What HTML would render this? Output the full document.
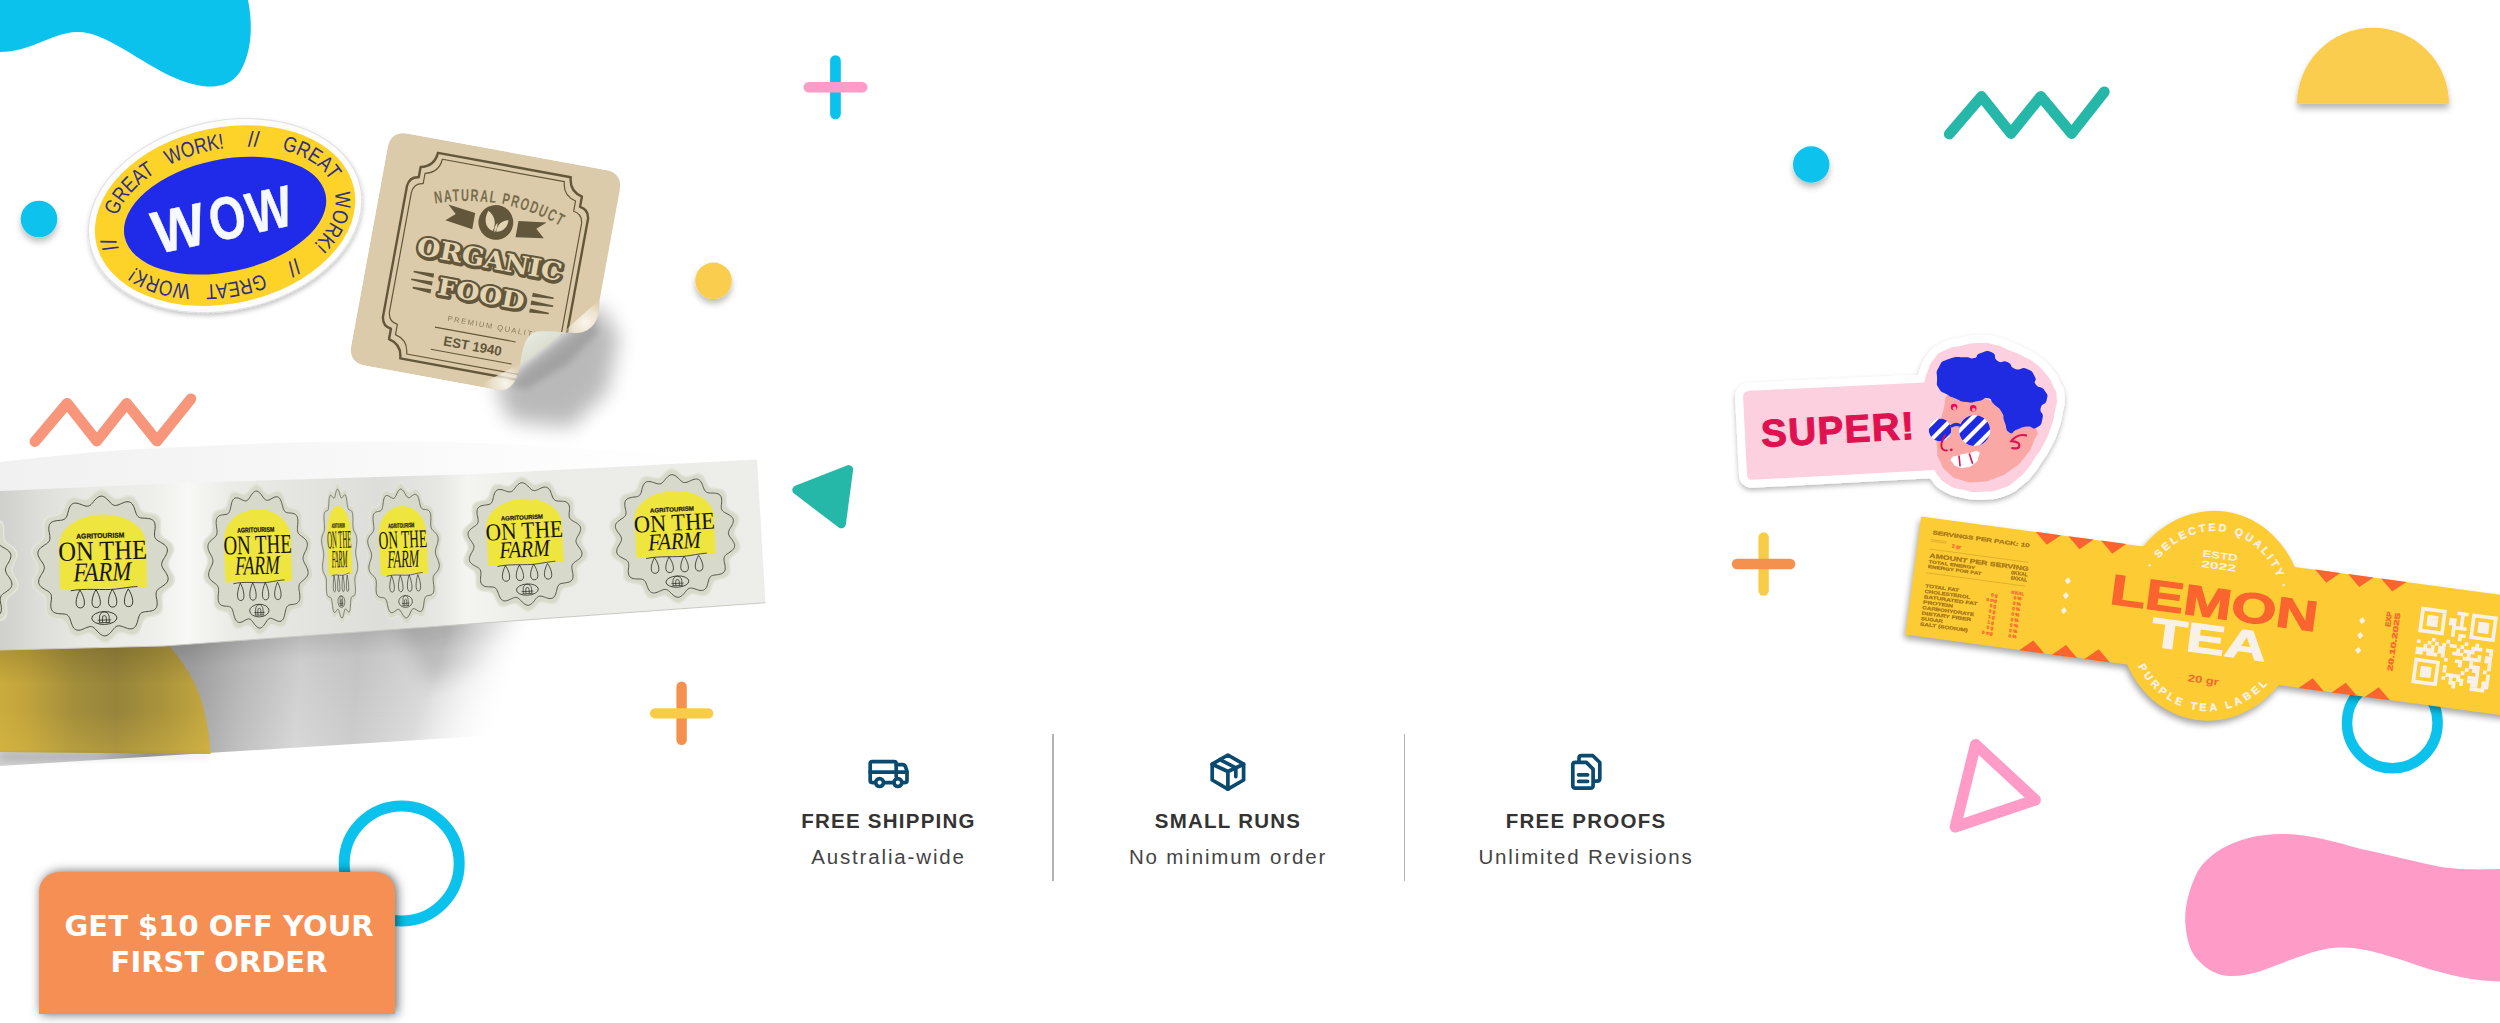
<!DOCTYPE html>
<html lang="en"><head><meta charset="utf-8"><title>Custom Stickers &amp; Labels</title>
<style>
html,body{margin:0;padding:0;background:#fff;}
body{width:2500px;height:1023px;overflow:hidden;position:relative;font-family:"Liberation Sans",sans-serif;}
#art{position:absolute;left:0;top:0;width:2500px;height:1023px;display:block;}
.feat{position:absolute;top:806px;width:400px;text-align:center;color:#333;}
.feat h3{margin:0;font-family:"Liberation Sans",sans-serif;font-weight:700;font-size:20.5px;line-height:30px;letter-spacing:1.25px;color:#333;}
.feat p{margin:6px 0 0;font-family:"Liberation Sans",sans-serif;font-weight:400;font-size:20.5px;line-height:30px;letter-spacing:1.85px;color:#444;}
.div{position:absolute;top:734px;height:147px;width:1.5px;background:#b4b4b4;}
#cta{position:absolute;left:39.2px;top:872px;width:355.7px;height:141.8px;background:#f68f54;border-radius:20px 20px 0 0;box-shadow:2px 0 11px rgba(0,0,0,.62);color:#fff;font-family:"DejaVu Sans",sans-serif;font-weight:700;font-size:29px;line-height:35.3px;text-align:center;box-sizing:border-box;padding:37.3px 0 0 4px;}
</style></head><body>
<svg id="art" viewBox="0 0 2500 1023" width="2500" height="1023">
<defs>
<filter id="ds" x="-30%" y="-30%" width="160%" height="180%"><feDropShadow dx="0" dy="4.5" stdDeviation="3" flood-color="#000" flood-opacity=".26"/></filter>
<filter id="ds2" x="-20%" y="-20%" width="140%" height="160%"><feDropShadow dx="0" dy="5" stdDeviation="3.2" flood-color="#000" flood-opacity=".28"/></filter>
<filter id="stk" x="-10%" y="-10%" width="120%" height="125%"><feDropShadow dx="0" dy="2.5" stdDeviation="2.5" flood-color="#000" flood-opacity=".28"/></filter>
<filter id="blur6" x="-50%" y="-50%" width="200%" height="200%"><feGaussianBlur stdDeviation="6"/></filter>
<filter id="blur10" x="-60%" y="-60%" width="220%" height="220%"><feGaussianBlur stdDeviation="10"/></filter>
<filter id="blur3" x="-30%" y="-30%" width="160%" height="160%"><feGaussianBlur stdDeviation="3"/></filter>
<g id="farm">
<path d="M0.0,-76.0 L1.3,-75.9 L2.6,-75.5 L3.9,-74.9 L5.2,-74.1 L6.4,-73.2 L7.6,-72.2 L8.7,-71.1 L9.9,-70.1 L10.9,-69.1 L12.0,-68.2 L13.1,-67.5 L14.2,-67.0 L15.4,-66.6 L16.6,-66.5 L17.8,-66.6 L19.1,-66.8 L20.5,-67.1 L21.9,-67.5 L23.4,-68.0 L24.9,-68.5 L26.4,-68.8 L27.9,-69.1 L29.4,-69.2 L30.8,-69.1 L32.1,-68.8 L33.3,-68.3 L34.4,-67.6 L35.4,-66.6 L36.3,-65.5 L37.0,-64.2 L37.7,-62.8 L38.3,-61.3 L38.9,-59.9 L39.4,-58.5 L40.0,-57.1 L40.6,-55.9 L41.3,-54.8 L42.1,-53.9 L43.1,-53.2 L44.1,-52.6 L45.3,-52.1 L46.6,-51.8 L48.0,-51.5 L49.5,-51.3 L51.1,-51.1 L52.6,-50.8 L54.1,-50.5 L55.5,-50.0 L56.9,-49.4 L58.0,-48.7 L59.0,-47.8 L59.9,-46.8 L60.5,-45.6 L60.9,-44.2 L61.1,-42.8 L61.2,-41.3 L61.2,-39.8 L61.1,-38.2 L61.0,-36.6 L60.9,-35.2 L60.8,-33.7 L60.9,-32.4 L61.1,-31.1 L61.5,-30.0 L62.0,-28.9 L62.8,-28.0 L63.7,-27.0 L64.8,-26.2 L66.0,-25.3 L67.2,-24.5 L68.5,-23.6 L69.8,-22.7 L71.0,-21.7 L72.0,-20.7 L72.9,-19.5 L73.6,-18.4 L74.0,-17.1 L74.3,-15.8 L74.2,-14.4 L74.0,-13.0 L73.5,-11.6 L72.9,-10.2 L72.2,-8.9 L71.4,-7.5 L70.6,-6.2 L69.9,-4.9 L69.3,-3.6 L68.8,-2.4 L68.5,-1.2 L68.4,-0.0 L68.5,1.2 L68.8,2.4 L69.3,3.6 L69.9,4.9 L70.6,6.2 L71.4,7.5 L72.2,8.9 L72.9,10.2 L73.5,11.6 L74.0,13.0 L74.2,14.4 L74.3,15.8 L74.0,17.1 L73.6,18.4 L72.9,19.5 L72.0,20.7 L71.0,21.7 L69.8,22.7 L68.5,23.6 L67.2,24.5 L66.0,25.3 L64.8,26.2 L63.7,27.0 L62.8,28.0 L62.0,28.9 L61.5,30.0 L61.1,31.1 L60.9,32.4 L60.8,33.7 L60.9,35.1 L61.0,36.6 L61.1,38.2 L61.2,39.8 L61.2,41.3 L61.1,42.8 L60.9,44.2 L60.5,45.6 L59.9,46.8 L59.0,47.8 L58.0,48.7 L56.9,49.4 L55.5,50.0 L54.1,50.5 L52.6,50.8 L51.1,51.1 L49.5,51.3 L48.0,51.5 L46.6,51.8 L45.3,52.1 L44.1,52.6 L43.1,53.2 L42.1,53.9 L41.3,54.8 L40.6,55.9 L40.0,57.1 L39.4,58.5 L38.9,59.9 L38.3,61.3 L37.7,62.8 L37.0,64.2 L36.3,65.5 L35.4,66.6 L34.4,67.6 L33.3,68.3 L32.1,68.8 L30.8,69.1 L29.4,69.2 L27.9,69.1 L26.4,68.8 L24.9,68.5 L23.4,68.0 L21.9,67.5 L20.5,67.1 L19.1,66.8 L17.8,66.6 L16.6,66.5 L15.4,66.6 L14.2,67.0 L13.1,67.5 L12.0,68.2 L10.9,69.1 L9.9,70.1 L8.7,71.1 L7.6,72.2 L6.4,73.2 L5.2,74.1 L3.9,74.9 L2.6,75.5 L1.3,75.9 L0.0,76.0 L-1.3,75.9 L-2.6,75.5 L-3.9,74.9 L-5.2,74.1 L-6.4,73.2 L-7.6,72.2 L-8.7,71.1 L-9.9,70.1 L-10.9,69.1 L-12.0,68.2 L-13.1,67.5 L-14.2,67.0 L-15.4,66.6 L-16.6,66.5 L-17.8,66.6 L-19.1,66.8 L-20.5,67.1 L-21.9,67.5 L-23.4,68.0 L-24.9,68.5 L-26.4,68.8 L-27.9,69.1 L-29.4,69.2 L-30.8,69.1 L-32.1,68.8 L-33.3,68.3 L-34.4,67.6 L-35.4,66.6 L-36.3,65.5 L-37.1,64.2 L-37.7,62.8 L-38.3,61.3 L-38.9,59.9 L-39.4,58.5 L-40.0,57.1 L-40.6,55.9 L-41.3,54.8 L-42.1,53.9 L-43.1,53.2 L-44.1,52.6 L-45.3,52.1 L-46.6,51.8 L-48.0,51.5 L-49.5,51.3 L-51.1,51.1 L-52.6,50.8 L-54.1,50.5 L-55.5,50.0 L-56.9,49.4 L-58.0,48.7 L-59.0,47.8 L-59.9,46.8 L-60.5,45.6 L-60.9,44.2 L-61.1,42.8 L-61.2,41.3 L-61.2,39.8 L-61.1,38.2 L-61.0,36.6 L-60.9,35.2 L-60.8,33.7 L-60.9,32.4 L-61.1,31.1 L-61.5,30.0 L-62.0,28.9 L-62.8,28.0 L-63.7,27.0 L-64.8,26.2 L-66.0,25.3 L-67.2,24.5 L-68.5,23.6 L-69.8,22.7 L-71.0,21.7 L-72.0,20.7 L-72.9,19.5 L-73.6,18.4 L-74.0,17.1 L-74.3,15.8 L-74.2,14.4 L-74.0,13.0 L-73.5,11.6 L-72.9,10.2 L-72.2,8.9 L-71.4,7.5 L-70.6,6.2 L-69.9,4.9 L-69.3,3.6 L-68.8,2.4 L-68.5,1.2 L-68.4,0.0 L-68.5,-1.2 L-68.8,-2.4 L-69.3,-3.6 L-69.9,-4.9 L-70.6,-6.2 L-71.4,-7.5 L-72.2,-8.9 L-72.9,-10.2 L-73.5,-11.6 L-74.0,-13.0 L-74.2,-14.4 L-74.3,-15.8 L-74.0,-17.1 L-73.6,-18.4 L-72.9,-19.5 L-72.0,-20.7 L-71.0,-21.7 L-69.8,-22.7 L-68.5,-23.6 L-67.2,-24.5 L-66.0,-25.3 L-64.8,-26.2 L-63.7,-27.0 L-62.8,-28.0 L-62.0,-28.9 L-61.5,-30.0 L-61.1,-31.1 L-60.9,-32.4 L-60.8,-33.7 L-60.9,-35.2 L-61.0,-36.6 L-61.1,-38.2 L-61.2,-39.8 L-61.2,-41.3 L-61.1,-42.8 L-60.9,-44.2 L-60.5,-45.6 L-59.9,-46.8 L-59.0,-47.8 L-58.0,-48.7 L-56.9,-49.4 L-55.5,-50.0 L-54.1,-50.5 L-52.6,-50.8 L-51.1,-51.1 L-49.5,-51.3 L-48.0,-51.5 L-46.6,-51.8 L-45.3,-52.1 L-44.1,-52.6 L-43.1,-53.2 L-42.1,-53.9 L-41.3,-54.8 L-40.6,-55.9 L-40.0,-57.1 L-39.4,-58.5 L-38.9,-59.9 L-38.3,-61.3 L-37.7,-62.8 L-37.1,-64.2 L-36.3,-65.5 L-35.4,-66.6 L-34.4,-67.6 L-33.3,-68.3 L-32.1,-68.8 L-30.8,-69.1 L-29.4,-69.2 L-27.9,-69.1 L-26.4,-68.8 L-24.9,-68.5 L-23.4,-68.0 L-21.9,-67.5 L-20.5,-67.1 L-19.1,-66.8 L-17.8,-66.6 L-16.6,-66.5 L-15.4,-66.6 L-14.2,-67.0 L-13.1,-67.5 L-12.0,-68.2 L-10.9,-69.1 L-9.9,-70.1 L-8.7,-71.1 L-7.6,-72.2 L-6.4,-73.2 L-5.2,-74.1 L-3.9,-74.9 L-2.6,-75.5 L-1.3,-75.9Z" fill="#e3e5da"/>
<path d="M0.0,-73.9 L1.3,-73.8 L2.6,-73.5 L3.8,-72.9 L5.0,-72.2 L6.2,-71.3 L7.4,-70.3 L8.5,-69.3 L9.6,-68.3 L10.7,-67.3 L11.7,-66.5 L12.8,-65.8 L13.9,-65.3 L15.0,-64.9 L16.2,-64.8 L17.4,-64.9 L18.7,-65.1 L20.0,-65.4 L21.4,-65.8 L22.8,-66.2 L24.3,-66.7 L25.7,-67.0 L27.2,-67.3 L28.6,-67.4 L29.9,-67.3 L31.2,-67.0 L32.4,-66.5 L33.5,-65.7 L34.5,-64.8 L35.3,-63.7 L36.1,-62.5 L36.7,-61.1 L37.3,-59.7 L37.9,-58.3 L38.4,-57.0 L39.0,-55.7 L39.6,-54.5 L40.3,-53.4 L41.1,-52.6 L42.0,-51.8 L43.0,-51.2 L44.1,-50.8 L45.4,-50.4 L46.8,-50.2 L48.2,-49.9 L49.7,-49.7 L51.2,-49.4 L52.7,-49.1 L54.1,-48.7 L55.3,-48.1 L56.5,-47.4 L57.5,-46.5 L58.2,-45.5 L58.8,-44.3 L59.3,-43.1 L59.5,-41.7 L59.6,-40.2 L59.6,-38.7 L59.5,-37.2 L59.4,-35.7 L59.3,-34.2 L59.3,-32.9 L59.3,-31.6 L59.5,-30.3 L59.9,-29.2 L60.5,-28.2 L61.2,-27.2 L62.1,-26.3 L63.1,-25.5 L64.2,-24.7 L65.5,-23.8 L66.7,-23.0 L67.9,-22.1 L69.1,-21.1 L70.1,-20.1 L71.0,-19.0 L71.6,-17.9 L72.1,-16.6 L72.3,-15.4 L72.2,-14.0 L72.0,-12.7 L71.6,-11.3 L71.0,-10.0 L70.3,-8.6 L69.5,-7.3 L68.8,-6.0 L68.1,-4.8 L67.5,-3.5 L67.0,-2.3 L66.8,-1.2 L66.7,-0.0 L66.8,1.2 L67.0,2.3 L67.5,3.5 L68.1,4.8 L68.8,6.0 L69.5,7.3 L70.3,8.6 L71.0,10.0 L71.6,11.3 L72.0,12.7 L72.2,14.0 L72.3,15.4 L72.1,16.6 L71.6,17.9 L71.0,19.0 L70.1,20.1 L69.1,21.1 L67.9,22.1 L66.7,23.0 L65.5,23.8 L64.2,24.7 L63.1,25.5 L62.1,26.3 L61.2,27.2 L60.5,28.2 L59.9,29.2 L59.5,30.3 L59.3,31.6 L59.3,32.9 L59.3,34.2 L59.4,35.7 L59.5,37.2 L59.6,38.7 L59.6,40.2 L59.5,41.7 L59.3,43.1 L58.8,44.3 L58.2,45.5 L57.5,46.5 L56.5,47.4 L55.3,48.1 L54.1,48.7 L52.7,49.1 L51.2,49.4 L49.7,49.7 L48.2,49.9 L46.8,50.2 L45.4,50.4 L44.1,50.8 L43.0,51.2 L42.0,51.8 L41.1,52.6 L40.3,53.4 L39.6,54.5 L39.0,55.7 L38.4,57.0 L37.9,58.3 L37.3,59.7 L36.7,61.1 L36.1,62.5 L35.3,63.7 L34.5,64.8 L33.5,65.7 L32.4,66.5 L31.2,67.0 L29.9,67.3 L28.6,67.4 L27.2,67.3 L25.7,67.0 L24.3,66.7 L22.8,66.2 L21.4,65.8 L20.0,65.4 L18.7,65.1 L17.4,64.9 L16.2,64.8 L15.0,64.9 L13.9,65.3 L12.8,65.8 L11.7,66.5 L10.7,67.3 L9.6,68.3 L8.5,69.3 L7.4,70.3 L6.2,71.3 L5.0,72.2 L3.8,72.9 L2.6,73.5 L1.3,73.8 L0.0,73.9 L-1.3,73.8 L-2.6,73.5 L-3.8,72.9 L-5.0,72.2 L-6.2,71.3 L-7.4,70.3 L-8.5,69.3 L-9.6,68.3 L-10.7,67.3 L-11.7,66.5 L-12.8,65.8 L-13.9,65.3 L-15.0,64.9 L-16.2,64.8 L-17.4,64.9 L-18.7,65.1 L-20.0,65.4 L-21.4,65.8 L-22.8,66.2 L-24.3,66.7 L-25.7,67.0 L-27.2,67.3 L-28.6,67.4 L-29.9,67.3 L-31.2,67.0 L-32.4,66.5 L-33.5,65.7 L-34.5,64.8 L-35.3,63.7 L-36.1,62.5 L-36.7,61.1 L-37.3,59.7 L-37.9,58.3 L-38.4,57.0 L-39.0,55.7 L-39.6,54.5 L-40.3,53.4 L-41.1,52.6 L-42.0,51.8 L-43.0,51.2 L-44.1,50.8 L-45.4,50.4 L-46.8,50.2 L-48.2,49.9 L-49.7,49.7 L-51.2,49.4 L-52.7,49.1 L-54.1,48.7 L-55.3,48.1 L-56.5,47.4 L-57.5,46.5 L-58.2,45.5 L-58.8,44.3 L-59.3,43.1 L-59.5,41.7 L-59.6,40.2 L-59.6,38.7 L-59.5,37.2 L-59.4,35.7 L-59.3,34.2 L-59.3,32.9 L-59.3,31.6 L-59.5,30.3 L-59.9,29.2 L-60.5,28.2 L-61.2,27.2 L-62.1,26.3 L-63.1,25.5 L-64.2,24.7 L-65.5,23.8 L-66.7,23.0 L-67.9,22.1 L-69.1,21.1 L-70.1,20.1 L-71.0,19.0 L-71.6,17.9 L-72.1,16.6 L-72.3,15.4 L-72.2,14.0 L-72.0,12.7 L-71.6,11.3 L-71.0,10.0 L-70.3,8.6 L-69.5,7.3 L-68.8,6.0 L-68.1,4.8 L-67.5,3.5 L-67.0,2.3 L-66.8,1.2 L-66.7,0.0 L-66.8,-1.2 L-67.0,-2.3 L-67.5,-3.5 L-68.1,-4.8 L-68.8,-6.0 L-69.5,-7.3 L-70.3,-8.6 L-71.0,-10.0 L-71.6,-11.3 L-72.0,-12.7 L-72.2,-14.0 L-72.3,-15.4 L-72.1,-16.6 L-71.6,-17.9 L-71.0,-19.0 L-70.1,-20.1 L-69.1,-21.1 L-67.9,-22.1 L-66.7,-23.0 L-65.5,-23.8 L-64.2,-24.7 L-63.1,-25.5 L-62.1,-26.3 L-61.2,-27.2 L-60.5,-28.2 L-59.9,-29.2 L-59.5,-30.3 L-59.3,-31.6 L-59.3,-32.9 L-59.3,-34.2 L-59.4,-35.7 L-59.5,-37.2 L-59.6,-38.7 L-59.6,-40.2 L-59.5,-41.7 L-59.3,-43.1 L-58.8,-44.3 L-58.2,-45.5 L-57.5,-46.5 L-56.5,-47.4 L-55.3,-48.1 L-54.1,-48.7 L-52.7,-49.1 L-51.2,-49.4 L-49.7,-49.7 L-48.2,-49.9 L-46.8,-50.2 L-45.4,-50.4 L-44.1,-50.8 L-43.0,-51.2 L-42.0,-51.8 L-41.1,-52.6 L-40.3,-53.4 L-39.6,-54.5 L-39.0,-55.7 L-38.4,-57.0 L-37.9,-58.3 L-37.3,-59.7 L-36.7,-61.1 L-36.1,-62.5 L-35.3,-63.7 L-34.5,-64.8 L-33.5,-65.7 L-32.4,-66.5 L-31.2,-67.0 L-29.9,-67.3 L-28.6,-67.4 L-27.2,-67.3 L-25.7,-67.0 L-24.3,-66.7 L-22.8,-66.2 L-21.4,-65.8 L-20.0,-65.4 L-18.7,-65.1 L-17.4,-64.9 L-16.2,-64.8 L-15.0,-64.9 L-13.9,-65.3 L-12.8,-65.8 L-11.7,-66.5 L-10.7,-67.3 L-9.6,-68.3 L-8.5,-69.3 L-7.4,-70.3 L-6.2,-71.3 L-5.0,-72.2 L-3.8,-72.9 L-2.6,-73.5 L-1.3,-73.8Z" fill="#d7dacb"/>
<path d="M0.0,-68.6 L1.2,-68.4 L2.4,-68.0 L3.5,-67.4 L4.7,-66.6 L5.7,-65.7 L6.8,-64.7 L7.8,-63.6 L8.8,-62.5 L9.7,-61.5 L10.7,-60.6 L11.6,-59.9 L12.6,-59.4 L13.6,-59.1 L14.7,-59.0 L15.8,-59.1 L17.0,-59.4 L18.3,-59.8 L19.6,-60.3 L20.9,-60.8 L22.3,-61.3 L23.7,-61.8 L25.1,-62.2 L26.5,-62.3 L27.7,-62.3 L28.9,-62.1 L30.0,-61.6 L31.0,-60.9 L31.9,-60.0 L32.6,-58.9 L33.3,-57.7 L33.8,-56.3 L34.3,-54.9 L34.7,-53.5 L35.2,-52.1 L35.6,-50.8 L36.1,-49.7 L36.7,-48.7 L37.4,-47.8 L38.2,-47.1 L39.1,-46.6 L40.2,-46.3 L41.5,-46.0 L42.8,-45.9 L44.2,-45.8 L45.7,-45.7 L47.2,-45.5 L48.6,-45.3 L50.0,-45.0 L51.2,-44.5 L52.3,-43.9 L53.3,-43.1 L54.0,-42.2 L54.5,-41.1 L54.8,-39.9 L55.0,-38.5 L55.0,-37.1 L54.9,-35.6 L54.7,-34.2 L54.4,-32.7 L54.2,-31.3 L54.1,-30.0 L54.1,-28.8 L54.2,-27.6 L54.5,-26.6 L55.0,-25.7 L55.7,-24.8 L56.6,-24.0 L57.6,-23.3 L58.8,-22.6 L60.1,-21.9 L61.3,-21.1 L62.6,-20.3 L63.8,-19.5 L64.8,-18.6 L65.7,-17.6 L66.4,-16.5 L66.8,-15.4 L67.0,-14.2 L66.9,-13.0 L66.6,-11.7 L66.1,-10.5 L65.4,-9.2 L64.7,-7.9 L63.8,-6.7 L63.0,-5.5 L62.2,-4.4 L61.6,-3.2 L61.1,-2.1 L60.8,-1.1 L60.6,-0.0 L60.8,1.1 L61.1,2.1 L61.6,3.2 L62.2,4.4 L63.0,5.5 L63.8,6.7 L64.7,7.9 L65.4,9.2 L66.1,10.5 L66.6,11.7 L66.9,13.0 L67.0,14.2 L66.8,15.4 L66.4,16.5 L65.7,17.6 L64.8,18.6 L63.8,19.5 L62.6,20.3 L61.3,21.1 L60.1,21.9 L58.8,22.6 L57.6,23.3 L56.6,24.0 L55.7,24.8 L55.0,25.7 L54.5,26.6 L54.2,27.6 L54.1,28.8 L54.1,30.0 L54.2,31.3 L54.4,32.7 L54.7,34.2 L54.9,35.6 L55.0,37.1 L55.0,38.5 L54.8,39.9 L54.5,41.1 L54.0,42.2 L53.3,43.1 L52.3,43.9 L51.2,44.5 L50.0,45.0 L48.6,45.3 L47.2,45.5 L45.7,45.7 L44.2,45.8 L42.8,45.9 L41.5,46.0 L40.2,46.3 L39.1,46.6 L38.2,47.1 L37.4,47.8 L36.7,48.7 L36.1,49.7 L35.6,50.8 L35.2,52.1 L34.7,53.5 L34.3,54.9 L33.8,56.3 L33.3,57.7 L32.6,58.9 L31.9,60.0 L31.0,60.9 L30.0,61.6 L28.9,62.1 L27.7,62.3 L26.5,62.3 L25.1,62.2 L23.7,61.8 L22.3,61.3 L20.9,60.8 L19.6,60.3 L18.3,59.8 L17.0,59.4 L15.8,59.1 L14.7,59.0 L13.6,59.1 L12.6,59.4 L11.6,59.9 L10.7,60.6 L9.7,61.5 L8.8,62.5 L7.8,63.6 L6.8,64.7 L5.7,65.7 L4.7,66.6 L3.5,67.4 L2.4,68.0 L1.2,68.4 L0.0,68.6 L-1.2,68.4 L-2.4,68.0 L-3.5,67.4 L-4.7,66.6 L-5.7,65.7 L-6.8,64.7 L-7.8,63.6 L-8.8,62.5 L-9.7,61.5 L-10.7,60.6 L-11.6,59.9 L-12.6,59.4 L-13.6,59.1 L-14.7,59.0 L-15.8,59.1 L-17.0,59.4 L-18.3,59.8 L-19.6,60.3 L-20.9,60.8 L-22.3,61.3 L-23.7,61.8 L-25.1,62.2 L-26.5,62.3 L-27.7,62.3 L-28.9,62.1 L-30.0,61.6 L-31.0,60.9 L-31.9,60.0 L-32.6,58.9 L-33.3,57.7 L-33.8,56.3 L-34.3,54.9 L-34.7,53.5 L-35.2,52.1 L-35.6,50.8 L-36.1,49.7 L-36.7,48.7 L-37.4,47.8 L-38.2,47.1 L-39.1,46.6 L-40.2,46.3 L-41.5,46.0 L-42.8,45.9 L-44.2,45.8 L-45.7,45.7 L-47.2,45.5 L-48.6,45.3 L-50.0,45.0 L-51.2,44.5 L-52.3,43.9 L-53.3,43.1 L-54.0,42.2 L-54.5,41.1 L-54.8,39.9 L-55.0,38.5 L-55.0,37.1 L-54.9,35.6 L-54.7,34.2 L-54.4,32.7 L-54.2,31.3 L-54.1,30.0 L-54.1,28.8 L-54.2,27.6 L-54.5,26.6 L-55.0,25.7 L-55.7,24.8 L-56.6,24.0 L-57.6,23.3 L-58.8,22.6 L-60.1,21.9 L-61.3,21.1 L-62.6,20.3 L-63.8,19.5 L-64.8,18.6 L-65.7,17.6 L-66.4,16.5 L-66.8,15.4 L-67.0,14.2 L-66.9,13.0 L-66.6,11.7 L-66.1,10.5 L-65.4,9.2 L-64.7,7.9 L-63.8,6.7 L-63.0,5.5 L-62.2,4.4 L-61.6,3.2 L-61.1,2.1 L-60.8,1.1 L-60.6,0.0 L-60.8,-1.1 L-61.1,-2.1 L-61.6,-3.2 L-62.2,-4.4 L-63.0,-5.5 L-63.8,-6.7 L-64.7,-7.9 L-65.4,-9.2 L-66.1,-10.5 L-66.6,-11.7 L-66.9,-13.0 L-67.0,-14.2 L-66.8,-15.4 L-66.4,-16.5 L-65.7,-17.6 L-64.8,-18.6 L-63.8,-19.5 L-62.6,-20.3 L-61.3,-21.1 L-60.1,-21.9 L-58.8,-22.6 L-57.6,-23.3 L-56.6,-24.0 L-55.7,-24.8 L-55.0,-25.7 L-54.5,-26.6 L-54.2,-27.6 L-54.1,-28.8 L-54.1,-30.0 L-54.2,-31.3 L-54.4,-32.7 L-54.7,-34.2 L-54.9,-35.6 L-55.0,-37.1 L-55.0,-38.5 L-54.8,-39.9 L-54.5,-41.1 L-54.0,-42.2 L-53.3,-43.1 L-52.3,-43.9 L-51.2,-44.5 L-50.0,-45.0 L-48.6,-45.3 L-47.2,-45.5 L-45.7,-45.7 L-44.2,-45.8 L-42.8,-45.9 L-41.5,-46.0 L-40.2,-46.3 L-39.1,-46.6 L-38.2,-47.1 L-37.4,-47.8 L-36.7,-48.7 L-36.1,-49.7 L-35.6,-50.8 L-35.2,-52.1 L-34.7,-53.5 L-34.3,-54.9 L-33.8,-56.3 L-33.3,-57.7 L-32.6,-58.9 L-31.9,-60.0 L-31.0,-60.9 L-30.0,-61.6 L-28.9,-62.1 L-27.7,-62.3 L-26.5,-62.3 L-25.1,-62.2 L-23.7,-61.8 L-22.3,-61.3 L-20.9,-60.8 L-19.6,-60.3 L-18.3,-59.8 L-17.0,-59.4 L-15.8,-59.1 L-14.7,-59.0 L-13.6,-59.1 L-12.6,-59.4 L-11.6,-59.9 L-10.7,-60.6 L-9.7,-61.5 L-8.8,-62.5 L-7.8,-63.6 L-6.8,-64.7 L-5.7,-65.7 L-4.7,-66.6 L-3.5,-67.4 L-2.4,-68.0 L-1.2,-68.4Z" fill="none" stroke="#3a3a32" stroke-width="0.9"/>
<path d="M-45,22 V-21.5 A45,29 0 0 1 45,-21.5 V22 Z" fill="#efe53f"/>
<text x="-2" y="-27.5" text-anchor="middle" font-family="'Liberation Sans',sans-serif" font-weight="700" font-size="6.8" textLength="50" lengthAdjust="spacingAndGlyphs" fill="#1c1a12" stroke="#1c1a12" stroke-width=".25">AGRITOURISM</text>
<text x="0" y="-6" text-anchor="middle" font-family="'Liberation Serif',serif" font-size="27" textLength="92" lengthAdjust="spacingAndGlyphs" fill="#17150e">ON THE</text>
<text x="-1" y="14.5" text-anchor="middle" font-family="'Liberation Serif',serif" font-style="italic" font-size="26.5" textLength="60" lengthAdjust="spacingAndGlyphs" fill="#17150e">FARM</text>
<path d="M-34,23.5 C-20,21 0,24 12,23 C22,22 30,21 35,21 M-24.5,23 C-29.54,30.875 -30.939999999999998,40.5 -24.5,40.5 C-18.060000000000002,40.5 -19.46,30.875 -24.5,23 Z M-8,23 C-13.04,30.875 -14.44,40.5 -8,40.5 C-1.5600000000000005,40.5 -2.96,30.875 -8,23 Z M9,23 C3.96,30.875 2.5600000000000005,40.5 9,40.5 C15.44,40.5 14.04,30.875 9,23 Z M25.5,23 C20.46,30.875 19.060000000000002,40.5 25.5,40.5 C31.939999999999998,40.5 30.54,30.875 25.5,23 Z" fill="none" stroke="#2a2a22" stroke-width="0.9"/>
<ellipse cx="0" cy="51" rx="13" ry="6.3" fill="none" stroke="#2a2a22" stroke-width="0.9"/>
<path d="M-5,55.5 V50 A5,5 0 0 1 5,50 V55.5 M-2,55.5 V51 A2,2.4 0 0 1 2,51 V55.5 M-7,53 H7 M-6,55.5 H6" fill="none" stroke="#2a2a22" stroke-width="0.8"/>
</g>
</defs>
<path d="M0,0 L248,0 C253,25 252,52 240,72 C232,84 220,87 207,86.5 C180,85 150,65 126,50.5 C105,38 90,31 75,32 C50,34 30,52 0,52 Z" fill="#0bc2ec"/>
<circle cx="39" cy="219" r="18.3" fill="#0bc2ec" filter="url(#ds)"/>
<circle cx="713.5" cy="280.8" r="18.3" fill="#fbcd4f" filter="url(#ds)"/>
<circle cx="1811.2" cy="164.5" r="18.2" fill="#0bc2ec" filter="url(#ds)"/>
<polyline points="35,441.5 67.2,403.3 96.8,441 126.7,403.3 157,441 190.9,398.8" fill="none" stroke="#f7967a" stroke-width="10.8" stroke-linecap="round" stroke-linejoin="round"/>
<polyline points="1949.3,134 1981.5,96.5 2010.9,133.5 2040.8,96.5 2071.6,133.5 2104.3,91.8" fill="none" stroke="#25b8a9" stroke-width="10.8" stroke-linecap="round" stroke-linejoin="round"/>
<path d="M2297,103.8 A76,76 0 0 1 2449,103.8 Z" fill="#fbcd4f" filter="url(#ds2)"/>
<rect x="830.1" y="55.2" width="10.7" height="64" rx="5.35" fill="#0bc2ec"/><rect x="803.5" y="81.9" width="64" height="10.7" rx="5.35" fill="#fe9bc7"/>
<rect x="676.4" y="681.6" width="10.4" height="63.5" rx="5.2" fill="#f5914f"/><rect x="649.9" y="708.2" width="63.5" height="10.4" rx="5.2" fill="#f9cc48"/>
<rect x="1758.4" y="532.2" width="10.4" height="63.5" rx="5.2" fill="#f9cc48"/><rect x="1731.8" y="558.8" width="63.5" height="10.4" rx="5.2" fill="#f5914f"/>
<path d="M848.6,469.6 L796.8,490 L841.4,523.8 Z" fill="#25b8a9" stroke="#25b8a9" stroke-width="9" stroke-linejoin="round"/>
<circle cx="401.7" cy="863.4" r="57.5" fill="none" stroke="#0bc2ec" stroke-width="11"/>
<circle cx="2392.3" cy="723" r="45.3" fill="none" stroke="#0bc2ec" stroke-width="10.5"/>
<path d="M1975.6,744.5 L2035.3,799.9 L1955.3,826.9 Z" fill="none" stroke="#fe9bc7" stroke-width="11.2" stroke-linejoin="round"/>
<path d="M2500,869 C2470,870 2450,869 2436,866 C2400,858 2380,853 2361,849 C2335,842 2310,834 2283,834 C2235,834 2205,855 2196,875 C2188,892 2184,910 2185.5,925 C2187,945 2193,955 2198,960 C2207,970 2218,976 2231,976 C2255,976 2270,967 2290,960 C2310,953 2325,947 2343,947.5 C2370,948 2395,958 2418,965.5 C2450,976 2475,981 2500,981.4 Z" fill="#fe9bc7"/>
<g transform="translate(225.1,215.6) rotate(-12)">
<ellipse cx="0" cy="0" rx="138.3" ry="94.8" fill="#fdfdfd" filter="url(#stk)"/>
<ellipse cx="0" cy="0" rx="138.3" ry="94.8" fill="none" stroke="#e2e2e6" stroke-width="1.2"/>
<ellipse cx="0" cy="0" rx="131.8" ry="88" fill="#fdd32a"/>
<ellipse cx="0" cy="0" rx="102.7" ry="56.2" fill="#1f2be8"/>
<path id="wowp" d="M-112,0 A112,66.5 0 1 1 112,0 A112,66.5 0 1 1 -112,0 A112,66.5 0 1 1 112,0" fill="none"/>
<text font-family="'Liberation Sans',sans-serif" font-size="21.5" fill="#2c2f83"><textPath href="#wowp" startOffset="23.0" textLength="59" lengthAdjust="spacingAndGlyphs">GREAT</textPath></text>
<text font-family="'Liberation Sans',sans-serif" font-size="21.5" fill="#2c2f83"><textPath href="#wowp" startOffset="97.0" textLength="59" lengthAdjust="spacingAndGlyphs">WORK!</textPath></text>
<text font-family="'Liberation Sans',sans-serif" font-size="21.5" fill="#2c2f83"><textPath href="#wowp" startOffset="179.0" textLength="11.5" lengthAdjust="spacingAndGlyphs">//</textPath></text>
<text font-family="'Liberation Sans',sans-serif" font-size="21.5" fill="#2c2f83"><textPath href="#wowp" startOffset="213.2" textLength="59" lengthAdjust="spacingAndGlyphs">GREAT</textPath></text>
<text font-family="'Liberation Sans',sans-serif" font-size="21.5" fill="#2c2f83"><textPath href="#wowp" startOffset="284.2" textLength="59" lengthAdjust="spacingAndGlyphs">WORK!</textPath></text>
<text font-family="'Liberation Sans',sans-serif" font-size="21.5" fill="#2c2f83"><textPath href="#wowp" startOffset="366.2" textLength="11.5" lengthAdjust="spacingAndGlyphs">//</textPath></text>
<text font-family="'Liberation Sans',sans-serif" font-size="21.5" fill="#2c2f83"><textPath href="#wowp" startOffset="401.5" textLength="59" lengthAdjust="spacingAndGlyphs">GREAT</textPath></text>
<text font-family="'Liberation Sans',sans-serif" font-size="21.5" fill="#2c2f83"><textPath href="#wowp" startOffset="475.5" textLength="59" lengthAdjust="spacingAndGlyphs">WORK!</textPath></text>
<text font-family="'Liberation Sans',sans-serif" font-size="21.5" fill="#2c2f83"><textPath href="#wowp" startOffset="559.5" textLength="11.5" lengthAdjust="spacingAndGlyphs">//</textPath></text>

<g font-family="'Liberation Sans',sans-serif" font-weight="700" font-size="60" fill="#f6f9ff" stroke="#f6f9ff" stroke-width="0.5" text-anchor="middle">
<text transform="translate(-48,23.5) scale(0.93,1)" x="0" y="0">W</text>
<text transform="translate(1.5,23.5) scale(0.78,1)" x="0" y="0">O</text>
<text transform="translate(44.5,23.5) scale(0.8,0.97)" x="0" y="0">W</text>
</g>
</g>
<g transform="translate(485.5,267.8) rotate(10.4)">
<path d="M30,114 L52,90 L90,49 L117,14 L144,44 L142,100 L112,142 L52,146 Z" fill="#000" opacity=".27" filter="url(#blur10)"/>
<path d="M44,112 L54,92 L90,51 L116,26 L122,44 L98,80 L62,112 Z" fill="#000" opacity=".13" filter="url(#blur3)"/>
<clipPath id="orgclip"><path d="M-100,-118 H100 Q118,-118 118,-100 V12 C120.5,25 119,32 116,37 C112,44 105,48 94,48.6 L89,49.5 L51.4,90.6 L50,104 C47,114 42,118 34,118 H-100 Q-118,118 -118,100 V-100 Q-118,-118 -100,-118 Z"/></clipPath>
<g clip-path="url(#orgclip)">
<rect x="-120" y="-120" width="244" height="240" fill="#dccbaa"/>
<path d="M-67.5,-104.5 H67.5 Q68.5,-90.5 82.0,-87.5 V-77.0 Q91,-76.0 92,-66.5 V66.5 Q91,76.0 82.0,77.0 V87.5 Q68.5,90.5 67.5,104.5 H-67.5 Q-68.5,90.5 -82.0,87.5 V77.0 Q-91,76.0 -92,66.5 V-66.5 Q-91,-76.0 -82.0,-77.0 V-87.5 Q-68.5,-90.5 -67.5,-104.5 Z" fill="none" stroke="#62573a" stroke-width="2.4" stroke-linejoin="round"/>
<path d="M-62.0,-99 H62.0 Q63.0,-85 76.5,-82 V-71.5 Q85.5,-70.5 86.5,-61.0 V61.0 Q85.5,70.5 76.5,71.5 V82 Q63.0,85 62.0,99 H-62.0 Q-63.0,85 -76.5,82 V71.5 Q-85.5,70.5 -86.5,61.0 V-61.0 Q-85.5,-70.5 -76.5,-71.5 V-82 Q-63.0,-85 -62.0,-99 Z" fill="none" stroke="#62573a" stroke-width="1.2" stroke-linejoin="round"/>
<path id="natp" d="M-67,-52 A190,190 0 0 1 73,-52" fill="none"/>
<text font-family="'Liberation Sans',sans-serif" font-weight="700" font-size="17" letter-spacing="2.2" fill="#786d4d"><textPath href="#natp" startOffset="50%" text-anchor="middle" textLength="131" lengthAdjust="spacingAndGlyphs">NATURAL PRODUCT</textPath></text>
<path d="M-48,-55.5 L-20,-52 V-35.5 L-48,-39.5 L-39,-47.5 Z" fill="#62573a"/>
<path d="M52,-55.5 L24,-52 V-35.5 L52,-39.5 L43,-47.5 Z" fill="#62573a"/>
<circle cx="2" cy="-46.5" r="20" fill="#dccbaa"/><circle cx="2" cy="-46.5" r="17.4" fill="#62573a"/>
<path d="M0.5,-37.5 C-8,-39 -10.5,-48 -7.5,-56.5 C0,-53 3,-45 0.5,-37.5 Z M4,-37.5 C3.5,-44 7.5,-50 14,-51 C14.5,-44 10.5,-38.5 4,-37.5 Z M2.3,-36 C1.2,-40 1.8,-44 3.6,-46.5 C4.6,-43 4,-39 2.3,-36 Z" fill="#e3d5b4"/>
<g font-family="'DejaVu Serif','Liberation Serif',serif" font-weight="700" text-anchor="middle" stroke-linejoin="round">
<text x="3.3" y="0.6" font-size="25" textLength="147" lengthAdjust="spacingAndGlyphs" fill="#62573a" stroke="#62573a" stroke-width="5">ORGANIC</text>
<text x="2.5" y="-0.4" font-size="25" textLength="147" lengthAdjust="spacingAndGlyphs" fill="#e3d5b4" stroke="#62573a" stroke-width="4.2" paint-order="stroke">ORGANIC</text>
<text x="1.3" y="35.8" font-size="24" textLength="88" lengthAdjust="spacingAndGlyphs" fill="#62573a" stroke="#62573a" stroke-width="5">FOOD</text>
<text x="0.5" y="34.8" font-size="24" textLength="88" lengthAdjust="spacingAndGlyphs" fill="#e3d5b4" stroke="#62573a" stroke-width="4.2" paint-order="stroke">FOOD</text>
</g>
<path d="M-70,15.8 L-49.5,14.9 V19.1 L-70,17.4 Z" fill="#62573a"/><path d="M72.5,16.8 L51.0,15.9 V20.1 L72.5,18.4 Z" fill="#62573a"/>
<path d="M-71,23.8 L-49.5,22.9 V27.1 L-71,25.4 Z" fill="#62573a"/><path d="M73.5,24.8 L51.0,23.9 V28.1 L73.5,26.4 Z" fill="#62573a"/>
<path d="M-68,31.8 L-49.5,30.9 V35.1 L-68,33.4 Z" fill="#62573a"/><path d="M70.5,32.8 L51.0,31.9 V36.1 L70.5,34.4 Z" fill="#62573a"/>
<text x="-28" y="59" font-family="'Liberation Sans',sans-serif" font-size="7.6" letter-spacing="1.55" fill="#62573a" opacity=".7">PREMIUM QUALITY</text>
<path d="M-39,67.5 H43 M-39,90 H43" stroke="#62573a" stroke-width="1.1"/>
<text x="1.5" y="84" text-anchor="middle" font-family="'Liberation Sans',sans-serif" font-weight="700" font-size="13.5" textLength="59" lengthAdjust="spacingAndGlyphs" fill="#62573a">EST 1940</text>
<radialGradient id="hl1" gradientUnits="userSpaceOnUse" cx="108" cy="36" r="26"><stop offset="0" stop-color="#fbf8f1" stop-opacity=".95"/><stop offset=".55" stop-color="#f3ecdd" stop-opacity=".7"/><stop offset="1" stop-color="#e6dabf" stop-opacity="0"/></radialGradient>
<radialGradient id="hl2" gradientUnits="userSpaceOnUse" cx="40" cy="110" r="24"><stop offset="0" stop-color="#fbf8f1" stop-opacity=".95"/><stop offset=".55" stop-color="#f1ead9" stop-opacity=".65"/><stop offset="1" stop-color="#e6dabf" stop-opacity="0"/></radialGradient>
<path d="M86,52 L120,8 V60 H86 Z" fill="url(#hl1)"/>
<path d="M10,120 L54,86 V122 Z" fill="url(#hl2)"/>
</g>
<linearGradient id="flapg" gradientUnits="userSpaceOnUse" x1="50" y1="60" x2="82" y2="90">
<stop offset="0" stop-color="#e9ebe1"/><stop offset=".45" stop-color="#dcdfd2"/><stop offset=".8" stop-color="#c4c6b9"/><stop offset="1" stop-color="#a9aaa0"/></linearGradient>
<path d="M51.4,91 C51,82 51,72 53,64.5 C55,58 58,55 61.4,53.7 C70,51 80,50 89,49.3 Z" fill="url(#flapg)"/>
</g>
<linearGradient id="rb0" gradientUnits="userSpaceOnUse" x1="0" y1="0" x2="720" y2="0"><stop offset="0" stop-color="#f1f1f1"/><stop offset=".3" stop-color="#f5f5f5"/><stop offset=".55" stop-color="#f9f9f9"/><stop offset=".8" stop-color="#fdfdfd"/><stop offset="1" stop-color="#fff"/></linearGradient>
<path d="M0,462 C60,455 110,450 172,447.5 C240,444 300,441.5 370,441.5 C440,441.5 500,443 560,447 C620,451 680,456 720,460.5 L480,474.5 L400,477 L180,483.5 L0,491.5 Z" fill="url(#rb0)"/>
<linearGradient id="rsh" gradientUnits="userSpaceOnUse" x1="0" y1="-18" x2="570" y2="18">
<stop offset="0" stop-color="#d6d6d6"/><stop offset=".25" stop-color="#c6c6c6"/><stop offset=".345" stop-color="#9a9a9a"/><stop offset=".41" stop-color="#a4a4a4"/><stop offset=".5" stop-color="#c0c0c0"/><stop offset=".6" stop-color="#d8d8d8"/><stop offset=".7" stop-color="#cdcdcd"/><stop offset=".8" stop-color="#dcdcdc"/><stop offset=".9" stop-color="#f0f0f0"/><stop offset="1" stop-color="#ffffff"/></linearGradient>
<linearGradient id="rsh2" gradientUnits="userSpaceOnUse" x1="0" y1="640" x2="8" y2="770"><stop offset="0" stop-color="#000" stop-opacity=".2"/><stop offset=".3" stop-color="#000" stop-opacity=".05"/><stop offset="1" stop-color="#000" stop-opacity="0"/></linearGradient>
<linearGradient id="rmg" gradientUnits="userSpaceOnUse" x1="432" y1="680" x2="502" y2="704"><stop offset="0" stop-color="#fff"/><stop offset="1" stop-color="#000"/></linearGradient>
<mask id="rmask" maskUnits="userSpaceOnUse" x="0" y="590" width="700" height="200"><rect x="0" y="590" width="700" height="200" fill="url(#rmg)"/></mask>
<g mask="url(#rmask)"><path d="M0,640 L640,600 L640,725 L512,734 L0,766 Z" fill="url(#rsh)"/>
<path d="M0,640 L640,600 L640,725 L512,734 L0,766 Z" fill="url(#rsh2)"/>
<path d="M395,620 L520,612 L480,668 L430,684 Z" fill="#000" opacity=".13" filter="url(#blur10)"/></g>
<path d="M0,752 L212,750 L560,722 L600,690 L640,700 L600,740 L0,772 Z" fill="#fff" opacity="0"/>
<linearGradient id="gold" gradientUnits="userSpaceOnUse" x1="0" y1="0" x2="212" y2="0"><stop offset="0" stop-color="#caab3e"/><stop offset=".12" stop-color="#c2a43c"/><stop offset=".35" stop-color="#a28e3b"/><stop offset=".55" stop-color="#97843b"/><stop offset=".76" stop-color="#a9933c"/><stop offset="1" stop-color="#c6a940"/></linearGradient>
<linearGradient id="goldv" gradientUnits="userSpaceOnUse" x1="0" y1="646" x2="0" y2="754"><stop offset="0" stop-color="#000" stop-opacity=".14"/><stop offset=".35" stop-color="#000" stop-opacity="0"/><stop offset=".6" stop-color="#e8c44a" stop-opacity="0"/><stop offset="1" stop-color="#e8c44a" stop-opacity=".3"/></linearGradient>
<path d="M0,640 L164,640 C182,660 196,680 203,706 C207,722 210,740 210.5,754 L0,752 Z" fill="url(#gold)"/>
<path d="M0,640 L164,640 C182,660 196,680 203,706 C207,722 210,740 210.5,754 L0,752 Z" fill="url(#goldv)"/>
<path d="M0,753 L210,755 L210,758 L0,761 Z" fill="#000" opacity=".10" filter="url(#blur3)"/>
<linearGradient id="strip" gradientUnits="userSpaceOnUse" x1="0" y1="0" x2="765" y2="0">
<stop offset="0" stop-color="#cfd0cb"/><stop offset=".05" stop-color="#dddeda"/><stop offset=".11" stop-color="#e8e8e4"/><stop offset=".2" stop-color="#eeeeea"/><stop offset=".245" stop-color="#f8f8f6"/><stop offset=".3" stop-color="#ebebe7"/><stop offset=".42" stop-color="#e2e3de"/><stop offset=".5" stop-color="#dddeda"/><stop offset=".575" stop-color="#e7e7e3"/><stop offset=".61" stop-color="#f4f4f1"/><stop offset=".7" stop-color="#ebebe7"/><stop offset="1" stop-color="#ededea"/></linearGradient>
<path d="M0,491 L180,483 L400,476.3 L480,473.9 L757,459.4 L765.5,602.7 L164,646 L0,650 Z" fill="url(#strip)"/>
<path d="M0,650 L164,646 L765.5,602.7" fill="none" stroke="#c9c9c4" stroke-width="1"/>
<clipPath id="stripclip"><path d="M0,491 L180,483 L400,476.3 L480,473.9 L757,459.4 L765.5,602.7 L164,646 L0,650 Z"/></clipPath><g clip-path="url(#stripclip)">
<use href="#farm" transform="translate(-52,572) rotate(-2) scale(0.947,1.013)"/>
<use href="#farm" transform="translate(103,566) rotate(-1.5) scale(0.967,1.020)"/>
<use href="#farm" transform="translate(258,559.6) rotate(-1.5) scale(0.743,1.000)"/>
<use href="#farm" transform="translate(339.7,553.6) rotate(-2) scale(0.263,0.941)"/>
<use href="#farm" transform="translate(403.5,553.5) rotate(-2.5) scale(0.526,0.941)"/>
<use href="#farm" transform="translate(525,544) rotate(-3) scale(0.842,0.895)"/>
<use href="#farm" transform="translate(675,536) rotate(-3) scale(0.882,0.895)"/>
</g>
<g>
<path d="M1749.3,390.8 L1924.3,382.6 C1925.4,378.8 1924.4,379.1 1927.7,371.2 C1930.9,363.4 1928.4,366.1 1934.1,359.1 C1939.9,352.1 1935.4,354.9 1944.9,350.3 C1954.3,345.7 1950.7,347.8 1962.5,345.4 C1974.2,343.0 1969.0,343.2 1980.1,343.1 C1991.2,342.9 1985.9,342.6 1995.7,345.0 C2005.5,347.4 2000.3,346.6 2009.4,350.3 C2018.5,354.0 2014.3,351.6 2023.1,356.2 C2031.9,360.7 2028.0,357.8 2035.8,364.0 C2043.6,370.2 2040.7,367.3 2046.6,374.8 C2052.4,382.2 2050.0,379.0 2053.4,386.5 C2056.8,394.0 2056.3,388.8 2056.7,397.2 C2057.2,405.7 2056.7,401.8 2054.8,411.9 C2052.8,422.0 2054.6,416.8 2050.9,427.5 C2047.1,438.3 2049.1,433.7 2043.6,444.2 C2038.1,454.6 2040.0,450.4 2034.4,458.8 C2028.9,467.3 2033.1,462.5 2027.0,469.6 C2020.9,476.6 2024.7,473.6 2016.2,480.0 C2007.8,486.3 2013.0,484.6 2001.6,488.6 C1990.2,492.5 1995.1,491.3 1982.0,491.7 C1969.0,492.1 1974.2,492.3 1962.5,489.7 C1950.7,487.1 1955.0,488.6 1946.8,483.9 C1938.7,479.1 1942.1,480.1 1938.0,475.5 C1934.0,470.8 1935.8,471.8 1934.7,470.0 L1752.3,479.8 Q1747.4,480.0 1747.0,474.9 L1743.1,397.2 Q1742.9,391.6 1749.3,390.8 Z" fill="#fff" stroke="#fff" stroke-width="16" stroke-linejoin="round" filter="url(#stk)"/>
<path d="M1749.3,390.8 L1924.3,382.6 C1925.4,378.8 1924.4,379.1 1927.7,371.2 C1930.9,363.4 1928.4,366.1 1934.1,359.1 C1939.9,352.1 1935.4,354.9 1944.9,350.3 C1954.3,345.7 1950.7,347.8 1962.5,345.4 C1974.2,343.0 1969.0,343.2 1980.1,343.1 C1991.2,342.9 1985.9,342.6 1995.7,345.0 C2005.5,347.4 2000.3,346.6 2009.4,350.3 C2018.5,354.0 2014.3,351.6 2023.1,356.2 C2031.9,360.7 2028.0,357.8 2035.8,364.0 C2043.6,370.2 2040.7,367.3 2046.6,374.8 C2052.4,382.2 2050.0,379.0 2053.4,386.5 C2056.8,394.0 2056.3,388.8 2056.7,397.2 C2057.2,405.7 2056.7,401.8 2054.8,411.9 C2052.8,422.0 2054.6,416.8 2050.9,427.5 C2047.1,438.3 2049.1,433.7 2043.6,444.2 C2038.1,454.6 2040.0,450.4 2034.4,458.8 C2028.9,467.3 2033.1,462.5 2027.0,469.6 C2020.9,476.6 2024.7,473.6 2016.2,480.0 C2007.8,486.3 2013.0,484.6 2001.6,488.6 C1990.2,492.5 1995.1,491.3 1982.0,491.7 C1969.0,492.1 1974.2,492.3 1962.5,489.7 C1950.7,487.1 1955.0,488.6 1946.8,483.9 C1938.7,479.1 1942.1,480.1 1938.0,475.5 C1934.0,470.8 1935.8,471.8 1934.7,470.0 L1752.3,479.8 Q1747.4,480.0 1747.0,474.9 L1743.1,397.2 Q1742.9,391.6 1749.3,390.8 Z" fill="#fcd0de" stroke="#fff" stroke-width="15" stroke-linejoin="round" paint-order="stroke"/>
<path d="M1749.3,390.8 L1924.3,382.6 C1925.4,378.8 1924.4,379.1 1927.7,371.2 C1930.9,363.4 1928.4,366.1 1934.1,359.1 C1939.9,352.1 1935.4,354.9 1944.9,350.3 C1954.3,345.7 1950.7,347.8 1962.5,345.4 C1974.2,343.0 1969.0,343.2 1980.1,343.1 C1991.2,342.9 1985.9,342.6 1995.7,345.0 C2005.5,347.4 2000.3,346.6 2009.4,350.3 C2018.5,354.0 2014.3,351.6 2023.1,356.2 C2031.9,360.7 2028.0,357.8 2035.8,364.0 C2043.6,370.2 2040.7,367.3 2046.6,374.8 C2052.4,382.2 2050.0,379.0 2053.4,386.5 C2056.8,394.0 2056.3,388.8 2056.7,397.2 C2057.2,405.7 2056.7,401.8 2054.8,411.9 C2052.8,422.0 2054.6,416.8 2050.9,427.5 C2047.1,438.3 2049.1,433.7 2043.6,444.2 C2038.1,454.6 2040.0,450.4 2034.4,458.8 C2028.9,467.3 2033.1,462.5 2027.0,469.6 C2020.9,476.6 2024.7,473.6 2016.2,480.0 C2007.8,486.3 2013.0,484.6 2001.6,488.6 C1990.2,492.5 1995.1,491.3 1982.0,491.7 C1969.0,492.1 1974.2,492.3 1962.5,489.7 C1950.7,487.1 1955.0,488.6 1946.8,483.9 C1938.7,479.1 1942.1,480.1 1938.0,475.5 C1934.0,470.8 1935.8,471.8 1934.7,470.0 L1752.3,479.8 Q1747.4,480.0 1747.0,474.9 L1743.1,397.2 Q1742.9,391.6 1749.3,390.8 Z" fill="none" stroke="#e6e3e6" stroke-width="1" transform="translate(0,0)" opacity="0"/>
<path d="M1947.8,394.3 C1943.9,399.5 1946.2,400.2 1942.9,411.9 C1939.7,423.6 1940.0,417.1 1938.0,429.5 C1936.1,441.9 1936.4,438.6 1937.1,449.1 C1937.7,459.5 1936.4,453.0 1940.0,460.8 C1943.6,468.6 1940.6,466.1 1947.8,472.5 C1955.0,478.9 1951.4,476.8 1961.5,480.0 C1971.6,483.1 1966.7,482.6 1978.1,481.9 C1989.5,481.3 1984.6,482.1 1995.7,478.0 C2006.8,473.9 2001.6,476.6 2011.4,469.6 C2021.1,462.5 2017.5,466.3 2025.0,456.9 C2032.5,447.4 2030.1,450.4 2033.8,441.2 C2037.6,432.1 2039.3,436.0 2036.4,429.5 C2033.5,423.0 2034.0,421.7 2025.0,421.7 C2016.1,421.7 2017.2,432.8 2009.4,429.5 C2001.6,426.2 2008.1,421.7 2001.6,411.9 C1995.1,402.1 1999.0,404.7 1989.8,400.2 C1980.7,395.6 1985.9,399.5 1974.2,398.2 C1962.5,396.9 1963.4,397.6 1954.6,396.3 C1945.9,395.0 1951.7,389.1 1947.8,394.3 Z" fill="#f9a8a6"/>
<path d="M1937.1,378.7 C1937.1,371.5 1935.1,373.4 1939.0,366.9 C1942.9,360.4 1940.3,362.4 1948.8,359.1 C1957.3,355.8 1956.0,357.5 1964.4,357.2 C1972.9,356.8 1969.0,359.4 1974.2,358.1 C1979.4,356.8 1974.2,355.2 1980.1,353.2 C1985.9,351.3 1985.9,349.7 1991.8,352.3 C1997.7,354.9 1992.5,357.8 1997.7,361.1 C2002.9,364.3 2001.6,359.4 2007.4,362.0 C2013.3,364.6 2008.7,366.6 2015.3,368.9 C2021.8,371.2 2020.5,366.3 2027.0,368.9 C2033.5,371.5 2031.9,371.5 2034.8,376.7 C2037.8,381.9 2032.5,380.0 2035.8,384.5 C2039.1,389.1 2041.0,385.2 2044.6,390.4 C2048.2,395.6 2047.9,394.3 2046.6,400.2 C2045.3,406.0 2042.0,402.1 2040.7,408.0 C2039.4,413.9 2043.9,411.3 2042.6,417.8 C2041.3,424.3 2042.0,424.6 2036.8,427.5 C2031.6,430.5 2033.5,425.9 2027.0,426.6 C2020.5,427.2 2023.1,427.5 2017.2,429.5 C2011.4,431.5 2013.6,435.0 2009.4,432.4 C2005.2,429.8 2007.1,428.5 2004.5,421.7 C2001.9,414.8 2005.2,417.8 2001.6,411.9 C1998.0,406.0 1998.3,408.6 1993.8,404.1 C1989.2,399.5 1993.1,399.2 1987.9,398.2 C1982.7,397.2 1985.3,399.8 1978.1,401.1 C1970.9,402.5 1974.2,403.1 1966.4,402.1 C1958.6,401.1 1961.2,400.8 1954.6,398.2 C1948.1,395.6 1952.0,397.6 1946.8,394.3 C1941.6,391.0 1942.3,393.7 1939.0,388.4 C1935.7,383.2 1937.1,385.8 1937.1,378.7 Z" fill="#1f2be0"/>
<clipPath id="lens1"><circle cx="1940.0" cy="429.9" r="11.3"/></clipPath><clipPath id="lens2"><circle cx="1974.6" cy="430.5" r="15.6"/></clipPath>
<g clip-path="url(#lens1)"><circle cx="1940.0" cy="429.9" r="11.3" fill="#1f2be0"/><path d="M1912.5,442.4 L1952.5,402.4" stroke="#fff" stroke-width="4.2"/><path d="M1920.5,450.4 L1960.5,410.4" stroke="#fff" stroke-width="4.2"/><path d="M1928.5,458.4 L1968.5,418.4" stroke="#fff" stroke-width="4.2"/></g>
<g clip-path="url(#lens2)"><circle cx="1974.6" cy="430.5" r="15.6" fill="#1f2be0"/><path d="M1947.1,443.0 L1987.1,403.0" stroke="#fff" stroke-width="4.2"/><path d="M1955.1,451.0 L1995.1,411.0" stroke="#fff" stroke-width="4.2"/><path d="M1963.1,459.0 L2003.1,419.0" stroke="#fff" stroke-width="4.2"/></g>
<path d="M1950.7,426.6 Q1955.6,422.7 1960.1,425.6" fill="none" stroke="#1f2be0" stroke-width="3"/>
<circle cx="1954.1" cy="407.0" r="3.3" fill="#df1150"/><circle cx="1973.2" cy="408.4" r="3.3" fill="#df1150"/>
<circle cx="1954.6" cy="408.4" r="1.8" fill="#f9a8a6"/><circle cx="1973.8" cy="409.9" r="1.8" fill="#f9a8a6"/>
<path d="M1944.9,435.4 C1939.0,445.1 1941.0,450.6 1946.8,450.6" fill="none" stroke="#df1150" stroke-width="2" stroke-linecap="round"/><circle cx="1951.3" cy="449.8" r="1.4" fill="#df1150"/>
<path d="M1951.7,457.9 C1954.0,455.2 1953.7,456.6 1959.5,454.9 C1965.4,453.3 1963.3,454.1 1969.3,453.0 C1975.4,451.8 1974.7,450.1 1977.7,451.4 C1980.8,452.7 1979.7,452.8 1978.5,456.9 C1977.3,461.0 1978.6,460.1 1974.2,463.7 C1969.8,467.3 1970.9,466.7 1965.4,467.6 C1959.9,468.6 1961.8,468.3 1957.6,466.7 C1953.3,465.0 1954.6,465.7 1952.7,462.7 C1950.7,459.8 1949.4,460.5 1951.7,457.9 Z" fill="#fff"/>
<path d="M1959.0,455.5 L1960.1,466.3 M1969.3,453.4 L1972.6,463.7" stroke="#df1150" stroke-width="1.6"/>
<path d="M2026.0,435.4 Q2017.2,433.4 2011.4,441.2 Q2020.2,441.6 2019.2,446.1 Q2019.1,449.1 2012.3,448.1" fill="none" stroke="#df1150" stroke-width="2.2" stroke-linecap="round"/>
<text transform="translate(1761.8,446.9) rotate(-3)" font-family="'Liberation Sans',sans-serif" font-weight="700" font-size="38.5" letter-spacing="1" textLength="154" lengthAdjust="spacing" fill="#df1150" stroke="#df1150" stroke-width="1.1">SUPER!</text>
</g>
<g transform="translate(2211,615.8) rotate(7.7)">
<path d="M-300.5,-59.6 H-76.5 A93,105.6 0 0 1 76.5,-59.6 H340 V59.6 H76.5 A93,105.6 0 0 1 -76.5,59.6 H-300.5 Z" fill="#000" opacity=".35" transform="translate(-1,4)" filter="url(#blur3)"/>
<path d="M-300.5,-59.6 H-76.5 A93,105.6 0 0 1 76.5,-59.6 H340 V59.6 H76.5 A93,105.6 0 0 1 -76.5,59.6 H-300.5 Z" fill="#fdcc35"/>
<path d="M-185,-59.8 h25.5 l-12.75,11.5 Z" fill="#f9642f"/><path d="M-185.5,59.8 h25.5 l-12.75,-11.5 Z" fill="#f9642f"/><path d="M-152,-59.8 h25.5 l-12.75,11.5 Z" fill="#f9642f"/><path d="M-152.5,59.8 h25.5 l-12.75,-11.5 Z" fill="#f9642f"/><path d="M-119,-59.8 h25.5 l-12.75,11.5 Z" fill="#f9642f"/><path d="M-119.5,59.8 h25.5 l-12.75,-11.5 Z" fill="#f9642f"/><path d="M97.0,-59.8 h25.5 l-12.75,11.5 Z" fill="#f9642f"/><path d="M96.5,59.8 h25.5 l-12.75,-11.5 Z" fill="#f9642f"/><path d="M130.3,-59.8 h25.5 l-12.75,11.5 Z" fill="#f9642f"/><path d="M129.8,59.8 h25.5 l-12.75,-11.5 Z" fill="#f9642f"/><path d="M163.6,-59.8 h25.5 l-12.75,11.5 Z" fill="#f9642f"/><path d="M163.1,59.8 h25.5 l-12.75,-11.5 Z" fill="#f9642f"/>
<path d="M-146.5,-19.1 l3,3.6 l-3,3.6 l-3,-3.6 Z" fill="#f8f1ea"/><path d="M-146.5,-4.1 l3,3.6 l-3,3.6 l-3,-3.6 Z" fill="#f8f1ea"/><path d="M-146.5,10.9 l3,3.6 l-3,3.6 l-3,-3.6 Z" fill="#f8f1ea"/><path d="M150.5,-19.1 l3,3.6 l-3,3.6 l-3,-3.6 Z" fill="#f8f1ea"/><path d="M150.5,-4.1 l3,3.6 l-3,3.6 l-3,-3.6 Z" fill="#f8f1ea"/><path d="M150.5,10.9 l3,3.6 l-3,3.6 l-3,-3.6 Z" fill="#f8f1ea"/>
<g font-family="'Liberation Sans',sans-serif" font-weight="700" fill="#9a6a14" stroke="#9a6a14" stroke-width=".3" opacity=".85">
<text x="-287" y="-43.5" font-size="5.4" textLength="98" lengthAdjust="spacingAndGlyphs">SERVINGS PER PACK: 10</text>
<text x="-287" y="-20" font-size="6" textLength="100" lengthAdjust="spacingAndGlyphs">AMOUNT PER SERVING</text>
<text x="-287" y="-14.5" font-size="4.2" textLength="47" lengthAdjust="spacingAndGlyphs">TOTAL ENERGY</text>
<text x="-287" y="-9.6" font-size="4.2" textLength="54" lengthAdjust="spacingAndGlyphs">ENERGY FOR FAT</text>
<text x="-187" y="-14.5" font-size="5" text-anchor="end">0KKAL</text><text x="-187" y="-9.2" font-size="5" text-anchor="end">0KKAL</text>
<text x="-287" y="10.0" font-size="4.6" textLength="34" lengthAdjust="spacingAndGlyphs">TOTAL FAT</text><text x="-287" y="15.5" font-size="4.6" textLength="46" lengthAdjust="spacingAndGlyphs">CHOLESTEROL</text><text x="-287" y="21.0" font-size="4.6" textLength="54" lengthAdjust="spacingAndGlyphs">SATURATED FAT</text><text x="-287" y="26.5" font-size="4.6" textLength="30" lengthAdjust="spacingAndGlyphs">PROTEIN</text><text x="-287" y="32.0" font-size="4.6" textLength="52" lengthAdjust="spacingAndGlyphs">CARBOHYDRATE</text><text x="-287" y="37.5" font-size="4.6" textLength="50" lengthAdjust="spacingAndGlyphs">DIETARY FIBER</text><text x="-287" y="43.0" font-size="4.6" textLength="22" lengthAdjust="spacingAndGlyphs">SUGAR</text><text x="-287" y="48.5" font-size="4.6" textLength="48" lengthAdjust="spacingAndGlyphs">SALT (SODIUM)</text>
</g>
<g font-family="'Liberation Sans',sans-serif" font-weight="700" fill="#f9642f" stroke="#f9642f" stroke-width=".25" font-size="4.6">
<text x="-266" y="-33" font-size="5">2 gr</text><text x="-188" y="5" text-anchor="end">KKAL</text>
<text x="-214" y="10.0" text-anchor="end">0 g</text><text x="-190" y="10.0" text-anchor="end">0 %</text><text x="-214" y="15.5" text-anchor="end">0 mg</text><text x="-190" y="15.5" text-anchor="end">0 %</text><text x="-214" y="21.0" text-anchor="end">0 g</text><text x="-190" y="21.0" text-anchor="end">0 %</text><text x="-214" y="26.5" text-anchor="end">0 g</text><text x="-190" y="26.5" text-anchor="end">0 %</text><text x="-214" y="32.0" text-anchor="end">1 g</text><text x="-190" y="32.0" text-anchor="end">0 %</text><text x="-214" y="37.5" text-anchor="end">1 g</text><text x="-190" y="37.5" text-anchor="end">0 %</text><text x="-214" y="43.0" text-anchor="end">0 g</text><text x="-190" y="43.0" text-anchor="end">0 %</text><text x="-214" y="48.5" text-anchor="end">0 mg</text><text x="-190" y="48.5" text-anchor="end">0 %</text>
</g>
<path d="M-288,-38 h16 M-288,-36.4 h16 M-288,-28.5 h100 M-288,-4.5 h100" stroke="#9a6a14" stroke-width=".5" opacity=".55"/>
<path id="ltop" d="M-73,0 A73,85 0 0 1 73,0" fill="none"/><path id="lbot" d="M-84,0 A84,95.5 0 0 0 84,0" fill="none"/>
<text font-family="'Liberation Sans',sans-serif" font-weight="700" font-size="10.6" fill="#f8f1ea" stroke="#f8f1ea" stroke-width=".35" letter-spacing="2.7"><textPath href="#ltop" startOffset="51%" text-anchor="middle">· SELECTED QUALITY ·</textPath></text>
<text font-family="'Liberation Sans',sans-serif" font-weight="700" font-size="10.6" fill="#f8f1ea" stroke="#f8f1ea" stroke-width=".35" letter-spacing="3.3"><textPath href="#lbot" startOffset="50.5%" text-anchor="middle">PURPLE TEA LABEL</textPath></text>
<text font-family="'Liberation Sans',sans-serif" font-weight="700" x="1" y="-57.5" font-size="9.6" fill="#f8f1ea" text-anchor="middle" textLength="35" lengthAdjust="spacingAndGlyphs">ESTD</text>
<text font-family="'Liberation Sans',sans-serif" font-weight="700" x="1" y="-47" font-size="9.6" fill="#f8f1ea" text-anchor="middle" textLength="35" lengthAdjust="spacingAndGlyphs">2022</text>
<text font-family="'Liberation Sans',sans-serif" font-weight="700" x="1.5" y="1.5" font-size="42.5" fill="#f9642f" stroke="#f9642f" stroke-width="1.2" text-anchor="middle" textLength="209" lengthAdjust="spacingAndGlyphs">LEMON</text>
<text font-family="'Liberation Sans',sans-serif" font-weight="700" x="1.3" y="38" font-size="41" fill="#f8f1ea" stroke="#f8f1ea" stroke-width="1.2" text-anchor="middle" textLength="116" lengthAdjust="spacingAndGlyphs">TEA</text>
<text font-family="'Liberation Sans',sans-serif" font-weight="700" x="1" y="68" font-size="10" fill="#f9642f" text-anchor="middle" textLength="31" lengthAdjust="spacingAndGlyphs">20 gr</text>
<g transform="translate(184,0) rotate(-90)" font-family="'Liberation Sans',sans-serif" font-weight="700" fill="#f9642f" stroke="#f9642f" stroke-width=".3" font-size="7.3"><text x="28" y="-5" text-anchor="end" textLength="15" lengthAdjust="spacingAndGlyphs">EXP</text><text x="28" y="3.2" text-anchor="end" textLength="59" lengthAdjust="spacingAndGlyphs">20.10.2025</text></g>
<path d="M207.4,-37.4h25.7v3.67h-25.7zM244.1,-37.4h11.0v3.67h-11.0zM258.8,-37.4h25.7v3.67h-25.7zM207.4,-33.7h3.7v3.67h-3.7zM229.4,-33.7h3.7v3.67h-3.7zM247.8,-33.7h3.7v3.67h-3.7zM258.8,-33.7h3.7v3.67h-3.7zM280.8,-33.7h3.7v3.67h-3.7zM207.4,-30.1h3.7v3.67h-3.7zM214.7,-30.1h11.0v3.67h-11.0zM229.4,-30.1h3.7v3.67h-3.7zM236.8,-30.1h7.3v3.67h-7.3zM247.8,-30.1h3.7v3.67h-3.7zM258.8,-30.1h3.7v3.67h-3.7zM266.1,-30.1h11.0v3.67h-11.0zM280.8,-30.1h3.7v3.67h-3.7zM207.4,-26.4h3.7v3.67h-3.7zM214.7,-26.4h11.0v3.67h-11.0zM229.4,-26.4h3.7v3.67h-3.7zM236.8,-26.4h7.3v3.67h-7.3zM247.8,-26.4h3.7v3.67h-3.7zM258.8,-26.4h3.7v3.67h-3.7zM266.1,-26.4h11.0v3.67h-11.0zM280.8,-26.4h3.7v3.67h-3.7zM207.4,-22.7h3.7v3.67h-3.7zM214.7,-22.7h11.0v3.67h-11.0zM229.4,-22.7h3.7v3.67h-3.7zM240.4,-22.7h14.7v3.67h-14.7zM258.8,-22.7h3.7v3.67h-3.7zM266.1,-22.7h11.0v3.67h-11.0zM280.8,-22.7h3.7v3.67h-3.7zM207.4,-19.0h3.7v3.67h-3.7zM229.4,-19.0h3.7v3.67h-3.7zM240.4,-19.0h3.7v3.67h-3.7zM258.8,-19.0h3.7v3.67h-3.7zM280.8,-19.0h3.7v3.67h-3.7zM207.4,-15.4h25.7v3.67h-25.7zM240.4,-15.4h3.7v3.67h-3.7zM247.8,-15.4h7.3v3.67h-7.3zM258.8,-15.4h25.7v3.67h-25.7zM247.8,-11.7h3.7v3.67h-3.7zM222.1,-8.0h3.7v3.67h-3.7zM236.8,-8.0h3.7v3.67h-3.7zM255.1,-8.0h3.7v3.67h-3.7zM266.1,-8.0h3.7v3.67h-3.7zM207.4,-4.4h3.7v3.67h-3.7zM218.4,-4.4h3.7v3.67h-3.7zM225.8,-4.4h3.7v3.67h-3.7zM233.1,-4.4h3.7v3.67h-3.7zM240.4,-4.4h7.3v3.67h-7.3zM251.4,-4.4h3.7v3.67h-3.7zM262.4,-4.4h11.0v3.67h-11.0zM277.1,-4.4h7.3v3.67h-7.3zM214.7,-0.7h3.7v3.67h-3.7zM222.1,-0.7h3.7v3.67h-3.7zM229.4,-0.7h7.3v3.67h-7.3zM247.8,-0.7h3.7v3.67h-3.7zM255.1,-0.7h11.0v3.67h-11.0zM280.8,-0.7h3.7v3.67h-3.7zM207.4,3.0h18.4v3.67h-18.4zM229.4,3.0h7.3v3.67h-7.3zM244.1,3.0h11.0v3.67h-11.0zM258.8,3.0h3.7v3.67h-3.7zM269.8,3.0h3.7v3.67h-3.7zM277.1,3.0h7.3v3.67h-7.3zM207.4,6.6h7.3v3.67h-7.3zM218.4,6.6h11.0v3.67h-11.0zM233.1,6.6h3.7v3.67h-3.7zM255.1,6.6h18.4v3.67h-18.4zM277.1,6.6h7.3v3.67h-7.3zM236.8,10.3h3.7v3.67h-3.7zM247.8,10.3h7.3v3.67h-7.3zM262.4,10.3h3.7v3.67h-3.7zM280.8,10.3h3.7v3.67h-3.7zM207.4,14.0h25.7v3.67h-25.7zM251.4,14.0h3.7v3.67h-3.7zM262.4,14.0h11.0v3.67h-11.0zM280.8,14.0h3.7v3.67h-3.7zM207.4,17.6h3.7v3.67h-3.7zM229.4,17.6h3.7v3.67h-3.7zM236.8,17.6h3.7v3.67h-3.7zM258.8,17.6h3.7v3.67h-3.7zM266.1,17.6h7.3v3.67h-7.3zM277.1,17.6h3.7v3.67h-3.7zM207.4,21.3h3.7v3.67h-3.7zM214.7,21.3h11.0v3.67h-11.0zM229.4,21.3h3.7v3.67h-3.7zM236.8,21.3h3.7v3.67h-3.7zM255.1,21.3h3.7v3.67h-3.7zM269.8,21.3h3.7v3.67h-3.7zM280.8,21.3h3.7v3.67h-3.7zM207.4,25.0h3.7v3.67h-3.7zM214.7,25.0h11.0v3.67h-11.0zM229.4,25.0h3.7v3.67h-3.7zM240.4,25.0h14.7v3.67h-14.7zM262.4,25.0h11.0v3.67h-11.0zM280.8,25.0h3.7v3.67h-3.7zM207.4,28.7h3.7v3.67h-3.7zM214.7,28.7h11.0v3.67h-11.0zM229.4,28.7h3.7v3.67h-3.7zM236.8,28.7h3.7v3.67h-3.7zM244.1,28.7h3.7v3.67h-3.7zM251.4,28.7h7.3v3.67h-7.3zM262.4,28.7h11.0v3.67h-11.0zM277.1,28.7h7.3v3.67h-7.3zM207.4,32.3h3.7v3.67h-3.7zM229.4,32.3h3.7v3.67h-3.7zM244.1,32.3h7.3v3.67h-7.3zM255.1,32.3h3.7v3.67h-3.7zM266.1,32.3h7.3v3.67h-7.3zM277.1,32.3h7.3v3.67h-7.3zM207.4,36.0h25.7v3.67h-25.7zM247.8,36.0h3.7v3.67h-3.7zM266.1,36.0h14.7v3.67h-14.7z" fill="#f8f1ea"/>
</g>
<g fill="none" stroke="#0a4a6e" stroke-width="3.7" stroke-linecap="round" stroke-linejoin="round">
<!-- truck -->
<path d="M874,782.6 H872.2 Q870.2,782.6 870.2,780.6 V763.7 Q870.2,761.7 872.2,761.7 H894.2 Q896.2,761.7 896.2,763.7 V776.5"/>
<path d="M870.2,772.2 H907"/>
<path d="M896.2,764.6 H902.6 Q904.6,764.6 905.4,766.6 Q907,770.2 907,773.5 V780.6 Q907,782.6 905,782.6 H903.6"/>
<path d="M885.2,782.6 H892.2"/>
<circle cx="879.6" cy="782.6" r="3.9"/><circle cx="897.9" cy="782.6" r="3.9"/>
<!-- box -->
<path d="M1227.9,755 L1243.6,764.2 V780 L1227.9,789.2 L1212.2,780 V764.2 Z"/>
<path d="M1212.2,764.2 L1227.9,771.5 L1243.6,764.2 M1227.9,771.5 V789.2"/>
<path d="M1220,759.6 L1235.8,767.9 V776.6"/>
<!-- docs -->
<path d="M1572.8,765 Q1572.8,762.4 1575.4,762.4 H1586.4 L1593.1,769.1 V785.5 Q1593.1,788.1 1590.5,788.1 H1575.4 Q1572.8,788.1 1572.8,785.5 Z"/>
<path d="M1579,760.8 V758.3 Q1579,755.7 1581.6,755.7 H1592.9 L1599.8,762.5 V778.5 Q1599.8,781.1 1597.2,781.1 H1595"/>
<path d="M1578.6,774.8 H1587.6 M1578.6,781.3 H1587.6"/>
</g>
</svg>
<div class="div" style="left:1052px"></div><div class="div" style="left:1403.5px"></div>
<div class="feat" style="left:688.5px"><h3>FREE SHIPPING</h3><p>Australia-wide</p></div>
<div class="feat" style="left:1028px"><h3>SMALL RUNS</h3><p>No minimum order</p></div>
<div class="feat" style="left:1386px"><h3>FREE PROOFS</h3><p>Unlimited Revisions</p></div>
<div id="cta">GET $10 OFF YOUR<br>FIRST ORDER</div>
</body></html>
